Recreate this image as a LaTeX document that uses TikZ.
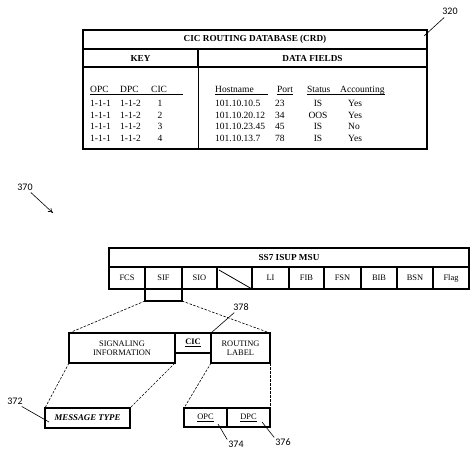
\documentclass[tikz,border=0pt]{standalone}
\usepackage{fontspec}
\setmainfont{Liberation Serif}
\newfontfamily\refnumfont{Carlito}
\usetikzlibrary{arrows.meta}

\begin{document}
\begin{tikzpicture}[x=1pt,y=-1pt,
    fld/.style={draw, line width=1.6pt, inner sep=0pt, outer sep=0pt, anchor=north west, align=center, font=\fontsize{8.4}{9.2}\selectfont},
    hdr/.style={fld, font=\fontsize{9.2}{10}\selectfont\bfseries},
    txt/.style={inner sep=0pt, anchor=base west, font=\fontsize{9.5}{10}\selectfont},
    refnum/.style={inner sep=1pt, font=\fontsize{10}{11}\selectfont\refnumfont},
    zoomline/.style={dash pattern=on 2.5pt off 1.5pt, line width=0.6pt},
    leader/.style={line width=0.6pt}]

\useasboundingbox (0,0) rectangle (474,456);

% CIC routing database
\node[hdr, minimum width=344, minimum height=19] (crd) at (83,30) {CIC ROUTING DATABASE (CRD)};
\node[hdr, minimum width=115, minimum height=18] (key) at (83,49) {KEY};
\node[hdr, minimum width=229, minimum height=18] (data) at (198,49) {DATA FIELDS};
\node[fld, minimum width=344, minimum height=82] (crdbody) at (83,67) {};
\draw[line width=0.6pt] (key.south east) -- (key.south east |- crdbody.south);

\node[txt] (opchd) at (90,92) {OPC};
\node[txt] (dpchd) at (120,92) {DPC};
\node[txt] (cichd) at (151,92) {CIC};
\node[txt] (hosthd) at (215,92) {Hostname};
\node[txt] (porthd) at (277,92) {Port};
\node[txt] (stathd) at (307,92) {Status};
\node[txt] (accthd) at (340,92) {Accounting};
\draw[line width=0.5pt] (90,94) -- (183,94); %key underline
\draw[line width=0.5pt] (215,94) -- (268,94);
\draw[line width=0.5pt] (277,94) -- (293,94);
\draw[line width=0.5pt] (307,94) -- (385,94);

\foreach \y/\c/\host/\port/\st/\acc in {106.5/1/101.10.10.5/23/IS/Yes, 118/2/101.10.20.12/34/OOS/Yes, 129.5/3/101.10.23.45/45/IS/No, 141.5/4/101.10.13.7/78/IS/Yes}{
    \node[txt] (opc\c) at (90,\y) {1-1-1};
    \node[txt] (dpc\c) at (120,\y) {1-1-2};
    \node[txt, anchor=base] (cic\c) at (160,\y) {\c};
    \node[txt] (host\c) at (215,\y) {\host};
    \node[txt] (port\c) at (275,\y) {\port};
    \node[txt, anchor=base] (stat\c) at (318,\y) {\st};
    \node[txt] (acct\c) at (348,\y) {\acc};
}

\node[refnum] (n320) at (450,11) {320};
\coordinate (crdtip) at (424,36);
\draw[leader] (n320.south west) ++(3,2) -- (crdtip);

% SS7 ISUP MSU
\node[refnum] (n370) at (25,187) {370};
\coordinate (msutip) at (53,213);
\draw[leader, -{To[length=5pt,width=5pt]}] (n370.south east) ++(-3,1) -- (msutip);

\node[hdr, minimum width=360, minimum height=19] (msu) at (109,248) {SS7 ISUP MSU};
\foreach \n/\x/\w/\t in {fcs/109/36/FCS, sif/145/37/SIF, sio/182/35/SIO, spare/217/35/{}, li/252/37/LI, fib/289/35/FIB, fsn/324/37/FSN, bib/361/36/BIB, bsn/397/36/BSN, flag/433/36/Flag}{
    \node[fld, minimum width=\w, minimum height=22] (\n) at (\x,267) {\t};
}
\draw[line width=0.8pt] (spare.north west) ++(2,3) -- (spare.south east);
\draw[line width=1.6pt] (sif.south west) -- ++(0,12) coordinate (sifbl) -| (sif.south east) coordinate[pos=0.5] (sifbr);

% CIC message breakdown
\node[fld, minimum width=106, minimum height=30] (siginfo) at (69,333) {SIGNALING\\INFORMATION};
\node[fld, minimum width=36, minimum height=20, font=\fontsize{8.4}{9.2}\selectfont\bfseries] (cic) at (175,333) {\underline{CIC}};
\node[fld, minimum width=59, minimum height=30] (routing) at (211,333) {ROUTING\\LABEL};

\draw[zoomline] (sifbl) -- (siginfo.north west);
\draw[zoomline] (sifbr) -- (routing.north east);

\node[refnum] (n378) at (241,307) {378};
\draw[leader] (n378.south west) ++(2,1) -- (cic.north east);

\node[fld, minimum width=85, minimum height=20, font=\fontsize{8.8}{9}\selectfont\bfseries\itshape] (msgtype) at (45,408) {MESSAGE TYPE};
\node[fld, minimum width=43, minimum height=19] (opc) at (184,408) {\underline{OPC}};
\node[fld, minimum width=43, minimum height=19] (dpc) at (227,408) {\underline{DPC}};

\draw[zoomline] (siginfo.south west) -- (msgtype.north west);
\draw[zoomline] (siginfo.south east) -- (msgtype.north east);
\draw[zoomline] (routing.south west) -- (opc.north west);
\draw[zoomline] (routing.south east) -- (dpc.north east);

\node[refnum] (n372) at (15,401) {372};
\coordinate (msgtip) at (49,422);
\draw[leader] (n372.south east) ++(-2,1) -- (msgtip);

\node[refnum] (n374) at (236,444) {374};
\coordinate (opctip) at (218,424);
\draw[leader] (n374.north west) -- (opctip);

\node[refnum] (n376) at (283,442) {376};
\coordinate (dpctip) at (262,422);
\draw[leader] (n376.north west) -- (dpctip);

\end{tikzpicture}
\end{document}
